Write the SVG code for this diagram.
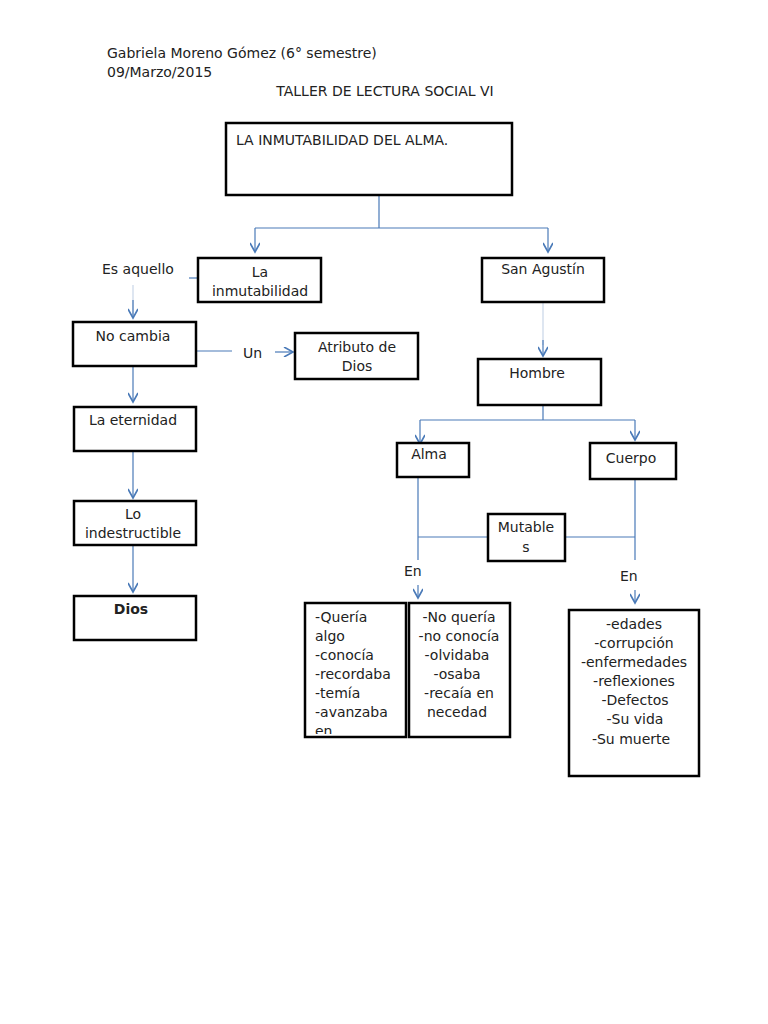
<svg xmlns="http://www.w3.org/2000/svg" width="768" height="1024" viewBox="0 0 768 1024">
<defs>
<marker id="a" markerWidth="12" markerHeight="10" refX="10" refY="5" orient="auto" markerUnits="userSpaceOnUse"><path d="M1,0 L10,5 L1,10" fill="none" stroke="#4a7ab8" stroke-width="1.6"/></marker>
<clipPath id="c"><rect x="305" y="603" width="101" height="131"/></clipPath>
</defs>
<style>
text{font-family:"DejaVu Sans","Liberation Sans",sans-serif;font-size:14px;fill:#222}
.m{text-anchor:middle}
.b{fill:#fff;stroke:#000;stroke-width:2.5}
.l{fill:none;stroke:#4a7ab8;stroke-width:1.2}
.f{fill:none;stroke:#c8d6e8;stroke-width:1.2}
</style>
<rect width="768" height="1024" fill="#fff"/>
<text x="107" y="58">Gabriela Moreno Gómez  (6° semestre)</text>
<text x="107" y="77">09/Marzo/2015</text>
<text x="385" y="96" class="m">TALLER DE LECTURA SOCIAL VI</text>
<g id="connectors">
<path class="l" d="M379,195 V228 M255,228 H548"/>
<path class="l" d="M255,228 V252" marker-end="url(#a)"/>
<path class="l" d="M548,228 V252" marker-end="url(#a)"/>
<path class="l" d="M189,278 H198"/>
<path class="f" d="M133,285 V315"/><path class="l" d="M133,300 V318" marker-end="url(#a)"/>
<path class="l" d="M196,351 H232"/>
<path class="l" d="M275,352 H293" marker-end="url(#a)"/>
<path class="l" d="M133,366 V402" marker-end="url(#a)"/>
<path class="l" d="M133,451 V498" marker-end="url(#a)"/>
<path class="l" d="M133,545 V592" marker-end="url(#a)"/>
<path class="f" d="M543,302 V345"/><path class="l" d="M543,340 V356" marker-end="url(#a)"/>
<path class="l" d="M543,405 V420 M420,420 H635"/>
<path class="l" d="M420,420 V444" marker-end="url(#a)"/>
<path class="l" d="M635,420 V440" marker-end="url(#a)"/>
<path class="l" d="M418,477 V560 M635,479 V560 M418,537 H488 M565,537 H635"/>
<path class="l" d="M418,585 V598" marker-end="url(#a)"/>
<path class="l" d="M635,590 V603" marker-end="url(#a)"/>
</g>
<g id="title"><rect class="b" x="226" y="123" width="286" height="72"/><text x="236" y="145">LA INMUTABILIDAD DEL ALMA.</text></g>
<g id="inmut"><rect class="b" x="198" y="258" width="123" height="44"/><text x="260" y="277" class="m">La</text><text x="260" y="296" class="m">inmutabilidad</text></g>
<g id="sanagustin"><rect class="b" x="482" y="258" width="122" height="44"/><text x="543" y="274" class="m">San Agustín</text></g>
<text x="102" y="274">Es aquello</text>
<g id="nocambia"><rect class="b" x="73" y="322" width="123" height="44"/><text x="133" y="341" class="m">No cambia</text></g>
<text x="243" y="358">Un</text>
<g id="atributo"><rect class="b" x="295" y="333" width="123" height="46"/><text x="357" y="352" class="m">Atributo de</text><text x="357" y="371" class="m">Dios</text></g>
<g id="eternidad"><rect class="b" x="74" y="407" width="122" height="44"/><text x="133" y="425" class="m">La eternidad</text></g>
<g id="indestructible"><rect class="b" x="74" y="501" width="122" height="44"/><text x="133" y="519" class="m">Lo</text><text x="133" y="538" class="m">indestructible</text></g>
<g id="dios"><rect class="b" x="74" y="596" width="122" height="44"/><text x="131" y="614" class="m" font-weight="bold">Dios</text></g>
<g id="hombre"><rect class="b" x="478" y="359" width="123" height="46"/><text x="537" y="378" class="m">Hombre</text></g>
<g id="alma"><rect class="b" x="397" y="443" width="72" height="34"/><text x="429" y="459" class="m">Alma</text></g>
<g id="cuerpo"><rect class="b" x="590" y="443" width="86" height="36"/><text x="631" y="463" class="m">Cuerpo</text></g>
<g id="mutables"><rect class="b" x="488" y="514" width="77" height="47"/><text x="526" y="532" class="m">Mutable</text><text x="526" y="552" class="m">s</text></g>
<text x="404" y="576">En</text>
<text x="620" y="581">En</text>
<g id="alma1"><rect class="b" x="305" y="603" width="101" height="134"/>
<g clip-path="url(#c)"><text x="315" y="622">-Quería</text><text x="315" y="641">algo</text><text x="315" y="660">-conocía</text><text x="315" y="679">-recordaba</text><text x="315" y="698">-temía</text><text x="315" y="717">-avanzaba</text><text x="315" y="736">en</text></g></g>
<g id="alma2"><rect class="b" x="409" y="603" width="101" height="134"/>
<text x="459" y="622" class="m">-No quería</text><text x="459" y="641" class="m">-no conocía</text><text x="457" y="660" class="m">-olvidaba</text><text x="457" y="679" class="m">-osaba</text><text x="459" y="698" class="m">-recaía en</text><text x="457" y="717" class="m">necedad</text></g>
<g id="cuerpo1"><rect class="b" x="569" y="610" width="130" height="166"/>
<text x="634" y="629" class="m">-edades</text><text x="634" y="648" class="m">-corrupción</text><text x="634" y="667" class="m">-enfermedades</text><text x="634" y="686" class="m">-reflexiones</text><text x="635" y="705" class="m">-Defectos</text><text x="635" y="724" class="m">-Su vida</text><text x="631" y="744" class="m">-Su muerte</text></g>
</svg>
